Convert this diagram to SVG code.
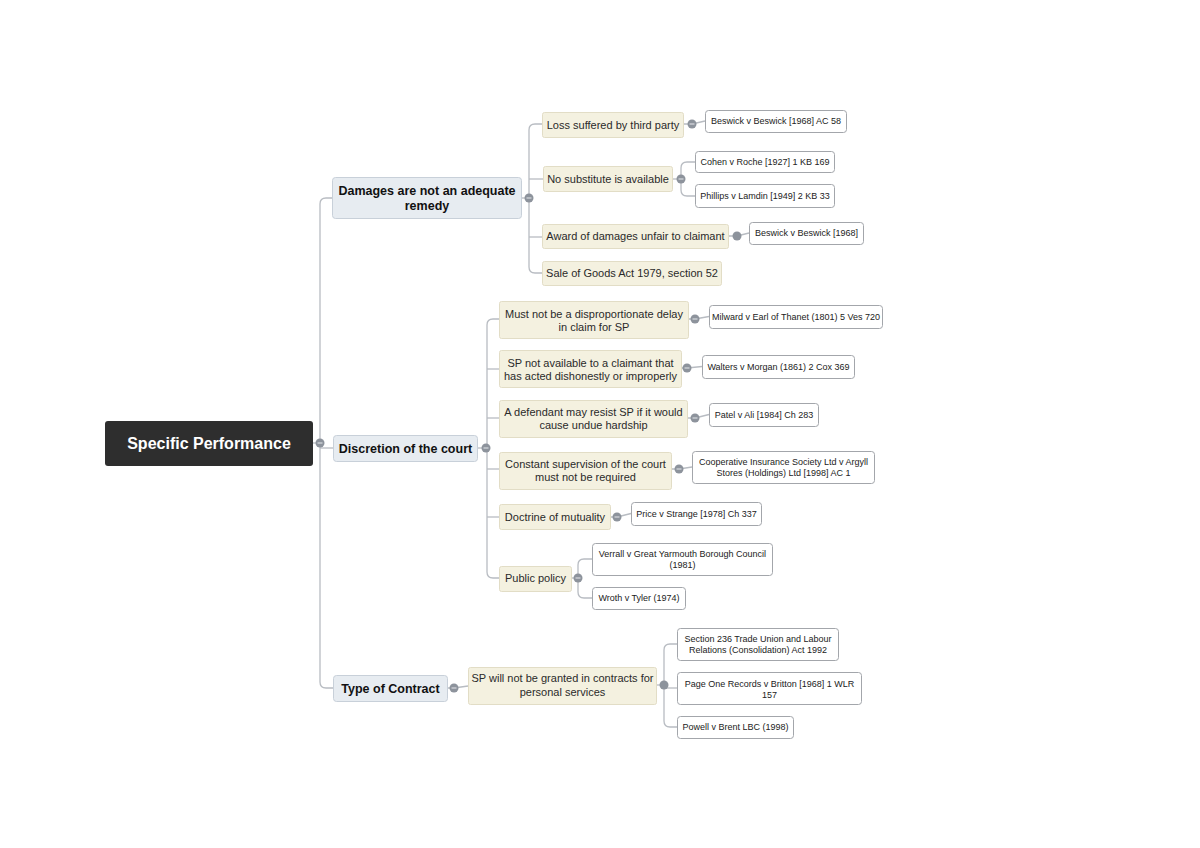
<svg xmlns="http://www.w3.org/2000/svg" width="1200" height="848" viewBox="0 0 1200 848">
<style>
  text { font-family: "Liberation Sans", Arial, sans-serif; text-anchor: middle; }
  .root rect { fill: #2e2e2e; }
  .root text { fill: #ffffff; font-size: 16px; font-weight: bold; }
  .l1 rect { fill: #e7ecf1; stroke: #c8d0d9; stroke-width: 1; }
  .l1 text { fill: #111111; font-size: 12.5px; font-weight: bold; }
  .l2 rect { fill: #f4f1e0; stroke: #e2ddc6; stroke-width: 1; }
  .l2 text { fill: #2a2a2a; font-size: 11px; }
  .leaf rect { fill: #ffffff; stroke: #a3a6ab; stroke-width: 1; }
  .leaf text { fill: #222222; font-size: 9px; }
  .conn path { fill: none; stroke: #b8bcc2; stroke-width: 1.3; }
  .tog circle { fill: #8d939c; }
  .tog path { stroke: #d8dbe0; stroke-width: 1.2; fill: none; }
</style>
<rect width="1200" height="848" fill="#ffffff"/>

<g id="connectors" class="conn">
  <!-- root trunk -->
  <path d="M313,443 H320"/>
  <path d="M333,198 H326 Q320,198 320,204 V682 Q320,688 326,688 H333"/>
  <path d="M320,448 H333"/>
  <!-- damages -->
  <path d="M522,198 H529"/>
  <path d="M542,124 H535 Q529,124 529,130 V267 Q529,273 535,273 H542"/>
  <path d="M529,179 H543"/>
  <path d="M529,237 H542"/>
  <path d="M684,124 H692 L705,121"/>
  <path d="M673,179 H681"/>
  <path d="M695,162 H687 Q681,162 681,168 V190 Q681,196 687,196 H695"/>
  <path d="M729,236 H737 L749,233"/>
  <!-- discretion -->
  <path d="M478,448 H487"/>
  <path d="M499,319 H493 Q487,319 487,325 V572 Q487,578 493,578 H499"/>
  <path d="M487,369 H499"/>
  <path d="M487,418 H499"/>
  <path d="M487,469 H499"/>
  <path d="M487,517 H499"/>
  <path d="M689,319 H695 L709,316.5"/>
  <path d="M682,368 H687 L702,366.5"/>
  <path d="M688,418 H695 L709,414.5"/>
  <path d="M672,469 H679 L692,467"/>
  <path d="M611,517 H617 L631,513.5"/>
  <path d="M572,578 H578"/>
  <path d="M592,559 H584 Q578,559 578,565 V592 Q578,598 584,598 H592"/>
  <!-- type of contract -->
  <path d="M448,688 H454 L468,686"/>
  <path d="M657,685 H664"/>
  <path d="M677,644 H670 Q664,644 664,650 V721 Q664,727 670,727 H677"/>
  <path d="M664,688 H677"/>
</g>

<g id="root" class="root">
  <rect x="105" y="421" width="208" height="45" rx="3"/>
  <text x="209" y="449">Specific Performance</text>
</g>

<g id="n-damages" class="l1">
  <rect x="332.5" y="177.5" width="189" height="41" rx="3"/>
  <text x="427" y="195">Damages are not an adequate</text>
  <text x="427" y="210">remedy</text>
</g>
<g id="n-discretion" class="l1">
  <rect x="333.5" y="435.5" width="144" height="26" rx="3"/>
  <text x="405.5" y="452.5">Discretion of the court</text>
</g>
<g id="n-type" class="l1">
  <rect x="333.5" y="675.5" width="114" height="26" rx="3"/>
  <text x="390.5" y="692.5">Type of Contract</text>
</g>

<g id="n-loss" class="l2">
  <rect x="542.5" y="112.5" width="141" height="25" rx="2"/>
  <text x="613" y="128.5">Loss suffered by third party</text>
</g>
<g id="n-nosub" class="l2">
  <rect x="543.5" y="166.5" width="129" height="25" rx="2"/>
  <text x="608" y="182.5">No substitute is available</text>
</g>
<g id="n-award" class="l2">
  <rect x="542.5" y="224.5" width="186" height="24" rx="2"/>
  <text x="635.5" y="240">Award of damages unfair to claimant</text>
</g>
<g id="n-sale" class="l2">
  <rect x="542.5" y="261.5" width="179" height="24" rx="2"/>
  <text x="632" y="277">Sale of Goods Act 1979, section 52</text>
</g>
<g id="n-delay" class="l2">
  <rect x="499.5" y="301.5" width="189" height="37" rx="2"/>
  <text x="594" y="318">Must not be a disproportionate delay</text>
  <text x="594" y="331">in claim for SP</text>
</g>
<g id="n-dishonest" class="l2">
  <rect x="499.5" y="350.5" width="182" height="37" rx="2"/>
  <text x="590.5" y="367">SP not available to a claimant that</text>
  <text x="590.5" y="380">has acted dishonestly or improperly</text>
</g>
<g id="n-hardship" class="l2">
  <rect x="499.5" y="400.5" width="188" height="37" rx="2"/>
  <text x="593.5" y="416">A defendant may resist SP if it would</text>
  <text x="593.5" y="429">cause undue hardship</text>
</g>
<g id="n-supervision" class="l2">
  <rect x="499.5" y="452.5" width="172" height="37" rx="2"/>
  <text x="585.5" y="468">Constant supervision of the court</text>
  <text x="585.5" y="481">must not be required</text>
</g>
<g id="n-mutuality" class="l2">
  <rect x="499.5" y="504.5" width="111" height="25" rx="2"/>
  <text x="555" y="521">Doctrine of mutuality</text>
</g>
<g id="n-policy" class="l2">
  <rect x="499.5" y="566.5" width="72" height="25" rx="2"/>
  <text x="535.5" y="582">Public policy</text>
</g>
<g id="n-personal" class="l2">
  <rect x="468.5" y="667.5" width="188" height="37" rx="2"/>
  <text x="562.5" y="682">SP will not be granted in contracts for</text>
  <text x="562.5" y="696">personal services</text>
</g>

<g id="leaf-beswick58" class="leaf">
  <rect x="705.5" y="110.5" width="141" height="22" rx="3"/>
  <text x="776" y="124.2">Beswick v Beswick [1968] AC 58</text>
</g>
<g id="leaf-cohen" class="leaf">
  <rect x="695.5" y="151.5" width="139" height="21" rx="3"/>
  <text x="765" y="164.7">Cohen v Roche [1927] 1 KB 169</text>
</g>
<g id="leaf-phillips" class="leaf">
  <rect x="695.5" y="184.5" width="139" height="23" rx="3"/>
  <text x="765" y="199">Phillips v Lamdin [1949] 2 KB 33</text>
</g>
<g id="leaf-beswick" class="leaf">
  <rect x="749.5" y="222.5" width="114" height="22" rx="3"/>
  <text x="806.5" y="236.2">Beswick v Beswick [1968]</text>
</g>
<g id="leaf-milward" class="leaf">
  <rect x="709.5" y="305.5" width="173" height="23" rx="3"/>
  <text x="796" y="320">Milward v Earl of Thanet (1801) 5 Ves 720</text>
</g>
<g id="leaf-walters" class="leaf">
  <rect x="702.5" y="355.5" width="152" height="23" rx="3"/>
  <text x="778.5" y="370">Walters v Morgan (1861) 2 Cox 369</text>
</g>
<g id="leaf-patel" class="leaf">
  <rect x="709.5" y="403.5" width="109" height="23" rx="3"/>
  <text x="764" y="418">Patel v Ali [1984] Ch 283</text>
</g>
<g id="leaf-coop" class="leaf">
  <rect x="692.5" y="451.5" width="182" height="32" rx="3"/>
  <text x="783.5" y="464.7">Cooperative Insurance Society Ltd v Argyll</text>
  <text x="783.5" y="475.7">Stores (Holdings) Ltd [1998] AC 1</text>
</g>
<g id="leaf-price" class="leaf">
  <rect x="631.5" y="502.5" width="130" height="23" rx="3"/>
  <text x="696.5" y="517">Price v Strange [1978] Ch 337</text>
</g>
<g id="leaf-verrall" class="leaf">
  <rect x="592.5" y="543.5" width="180" height="32" rx="3"/>
  <text x="682.5" y="557.2">Verrall v Great Yarmouth Borough Council</text>
  <text x="682.5" y="568.2">(1981)</text>
</g>
<g id="leaf-wroth" class="leaf">
  <rect x="592.5" y="587.5" width="93" height="22" rx="3"/>
  <text x="639" y="601.2">Wroth v Tyler (1974)</text>
</g>
<g id="leaf-section236" class="leaf">
  <rect x="677.5" y="628.5" width="161" height="32" rx="3"/>
  <text x="758" y="642.2">Section 236 Trade Union and Labour</text>
  <text x="758" y="653.2">Relations (Consolidation) Act 1992</text>
</g>
<g id="leaf-pageone" class="leaf">
  <rect x="677.5" y="672.5" width="184" height="32" rx="3"/>
  <text x="769.5" y="687.2">Page One Records v Britton [1968] 1 WLR</text>
  <text x="769.5" y="698.2">157</text>
</g>
<g id="leaf-powell" class="leaf">
  <rect x="677.5" y="716.5" width="116" height="22" rx="3"/>
  <text x="735.5" y="730.2">Powell v Brent LBC (1998)</text>
</g>

<g id="toggles" class="tog">
  <g><circle cx="320" cy="443" r="4.5"/><path d="M317.5,443 H322.5"/></g>
  <g><circle cx="529" cy="198" r="4.5"/><path d="M526.5,198 H531.5"/></g>
  <g><circle cx="486" cy="448" r="4.5"/><path d="M483.5,448 H488.5"/></g>
  <g><circle cx="454" cy="688" r="4.5"/><path d="M451.5,688 H456.5"/></g>
  <g><circle cx="692" cy="124" r="4.5"/><path d="M689.5,124 H694.5"/></g>
  <g><circle cx="681" cy="179" r="4.5"/><path d="M678.5,179 H683.5"/></g>
  <g><circle cx="737" cy="236" r="4.5"/></g>
  <g><circle cx="695" cy="319" r="4.5"/><path d="M692.5,319 H697.5"/></g>
  <g><circle cx="687" cy="368" r="4.5"/><path d="M684.5,368 H689.5"/></g>
  <g><circle cx="695" cy="418" r="4.5"/><path d="M692.5,418 H697.5"/></g>
  <g><circle cx="679" cy="469" r="4.5"/><path d="M676.5,469 H681.5"/></g>
  <g><circle cx="617" cy="517" r="4.5"/><path d="M614.5,517 H619.5"/></g>
  <g><circle cx="578" cy="578" r="4.5"/><path d="M575.5,578 H580.5"/></g>
  <g><circle cx="664" cy="685" r="4.5"/></g>
</g>
</svg>
